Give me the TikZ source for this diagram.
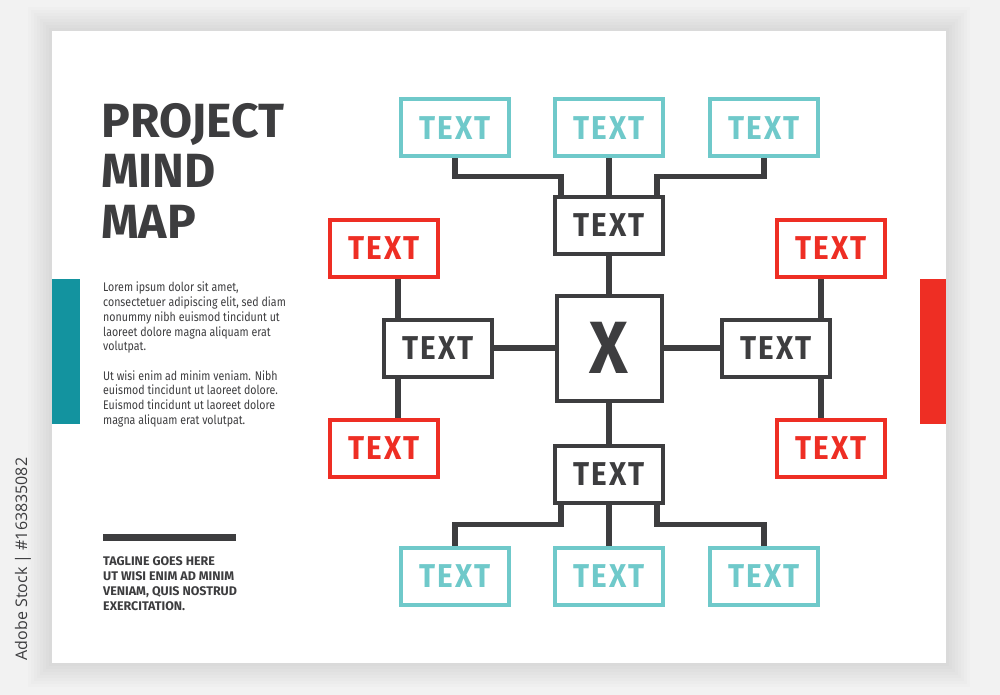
\documentclass[tikz,border=0pt]{standalone}
\usepackage{fontspec}
\usetikzlibrary{backgrounds}
\setmainfont{Fira Sans}
\newfontfamily\boxfont{Fira Sans}[FakeStretch=0.9,LetterSpace=6]
\newfontfamily\bodyfont{Fira Sans}[FakeStretch=0.85]
\newfontfamily\markfont{Open Sans}
\definecolor{ink}{HTML}{3D3D3F}
\definecolor{mint}{HTML}{6FC9CA}
\definecolor{flame}{HTML}{EE2E24}
\definecolor{petrol}{HTML}{13939F}
\definecolor{paper}{HTML}{F2F2F2}

\begin{document}
\begin{tikzpicture}[x=1pt, y=-1pt]
    \tikzstyle{every node} = [inner sep=0pt]
    \tikzstyle{box} = [rectangle, line width=4pt, fill=white, minimum width=108pt, minimum height=57pt, font=\boxfont\bfseries\fontsize{33}{33}\selectfont]
    \tikzstyle{mintbox} = [box, draw=mint, text=mint]
    \tikzstyle{flamebox} = [box, draw=flame, text=flame]
    \tikzstyle{inkbox} = [box, draw=ink, text=ink]
    \tikzstyle{link} = [draw=ink, line width=5.5pt, line join=miter]

    \useasboundingbox (0,0) rectangle (1000,695);

    % sheet with soft shadow
    \begin{scope}[on background layer]
        \fill[paper] (0,0) rectangle (1000,695);
        \foreach \s in {24,21,...,3}
            \fill[black, opacity=0.012] (52-\s,31-\s) rectangle (946+\s,663+\s);
        \fill[white] (52,31) rectangle (946,663);
        \fill[petrol] (52,279) rectangle (80,424);
        \fill[flame] (920,279) rectangle (946,424);
    \end{scope}

    \node (stamp) [rotate=90, text=ink, font=\markfont\fontsize{16}{16}\selectfont] at (23,559) {Adobe Stock | \#163835082};

    % left column
    \node (title) [anchor=north west, align=left, text=ink, font=\bfseries\fontsize{48}{50.5}\selectfont] at (101,103) {PROJECT\\MIND\\MAP};
    \node (blurb) [anchor=north west, align=left, text=ink, font=\bodyfont\fontsize{12.5}{14.7}\selectfont] at (103,282)
        {Lorem ipsum dolor sit amet,\\consectetuer adipiscing elit, sed diam\\nonummy nibh euismod tincidunt ut\\laoreet dolore magna aliquam erat\\volutpat.\\[14.7pt]Ut wisi enim ad minim veniam. Nibh\\euismod tincidunt ut laoreet dolore.\\Euismod tincidunt ut laoreet dolore\\magna aliquam erat volutpat.};
    \fill[ink] (103,534) rectangle (236,541);
    \node (tagline) [anchor=north west, align=left, text=ink, font=\bfseries\fontsize{12.5}{15}\selectfont] at (103,556)
        {TAGLINE GOES HERE\\UT WISI ENIM AD MINIM\\VENIAM, QUIS NOSTRUD\\EXERCITATION.};

    % mind map
    \node (hub) [inkbox, minimum width=105pt, minimum height=105pt, font=\boxfont\bfseries\fontsize{74}{74}\selectfont] at (609,348) {X};

    \node (north) [inkbox] at (609,225) {TEXT};
    \node (south) [inkbox] at (609,474) {TEXT};
    \node (west) [inkbox] at (438,348) {TEXT};
    \node (east) [inkbox] at (776,348) {TEXT};

    \node (nw) [mintbox] at (455,128) {TEXT};
    \node (nn) [mintbox] at (609,128) {TEXT};
    \node (ne) [mintbox] at (764,128) {TEXT};
    \node (sw) [mintbox] at (455,576) {TEXT};
    \node (ss) [mintbox] at (609,576) {TEXT};
    \node (se) [mintbox] at (764,576) {TEXT};

    \node (wn) [flamebox] at (384,248) {TEXT};
    \node (ws) [flamebox] at (384,448) {TEXT};
    \node (en) [flamebox] at (831,248) {TEXT};
    \node (es) [flamebox] at (831,448) {TEXT};

    \begin{scope}[on background layer]
        \draw [link] (nn) -- (north);
        \draw [link] (north) -- (hub);
        \draw [link] (hub) -- (south);
        \draw [link] (south) -- (ss);
        \draw [link] (west) -- (hub);
        \draw [link] (hub) -- (east);

        \draw [link] (nw.center) |- ([xshift=8pt, yshift=18pt]north.north west) -- ([xshift=8pt]north.south west);
        \draw [link] (ne.center) |- ([xshift=-8pt, yshift=18pt]north.north east) -- ([xshift=-8pt]north.south east);
        \draw [link] (sw.center) |- ([xshift=8pt, yshift=-20pt]south.south west) -- ([xshift=8pt]south.north west);
        \draw [link] (se.center) |- ([xshift=-8pt, yshift=-20pt]south.south east) -- ([xshift=-8pt]south.north east);

        \draw [link] ([xshift=16pt]west.west) -- ([xshift=16pt]west.west |- wn.center);
        \draw [link] ([xshift=16pt]west.west) -- ([xshift=16pt]west.west |- ws.center);
        \draw [link] ([xshift=-11pt]east.east) -- ([xshift=-11pt]east.east |- en.center);
        \draw [link] ([xshift=-11pt]east.east) -- ([xshift=-11pt]east.east |- es.center);
    \end{scope}
\end{tikzpicture}
\end{document}
